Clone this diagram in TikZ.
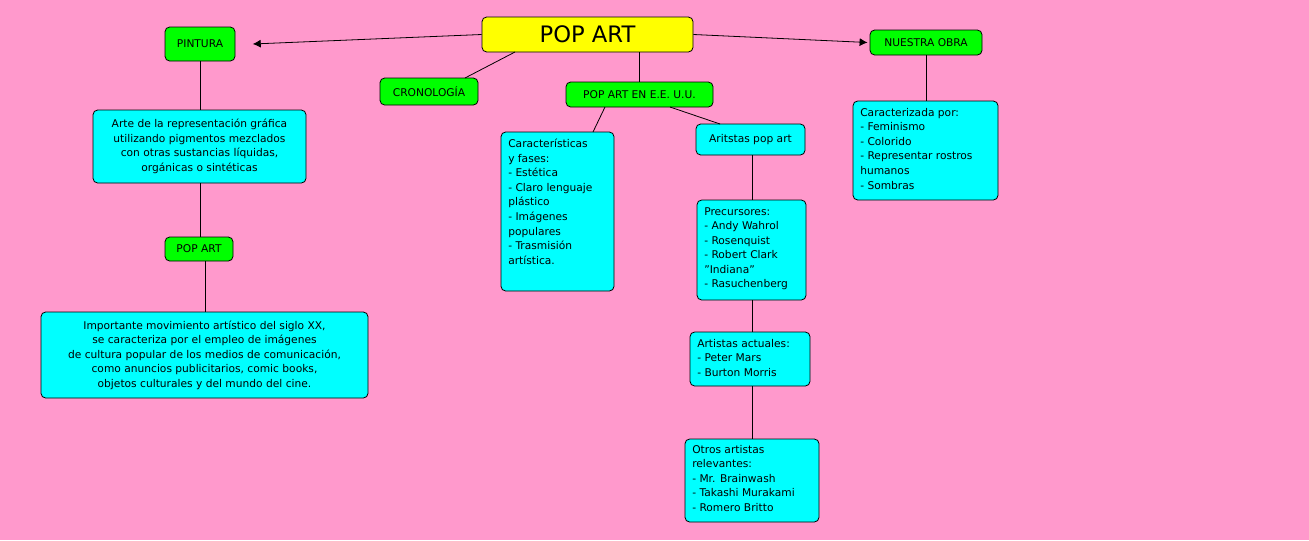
\documentclass[tikz,border=0pt]{standalone}
\usepackage{fontspec}
\setmainfont{DejaVu Sans}
\usetikzlibrary{fit}
\definecolor{bg}{HTML}{FF99CC}
\definecolor{gr}{HTML}{00FF00}
\definecolor{cy}{HTML}{00FFFF}
\definecolor{ye}{HTML}{FFFF00}
\tikzset{
 box/.style={draw=black, rounded corners=3.5pt, inner sep=0pt, line width=0.6pt},
 gbox/.style={box, fill=gr},
 cbox/.style={box, fill=cy},
 lbl/.style={font=\fontsize{8}{10.9}\selectfont, inner sep=0pt},
 con/.style={line width=0.6pt},
 arr/.style={con, -{Latex[length=6pt,width=6pt]}},
}
\usetikzlibrary{arrows.meta}
\begin{document}
\begin{tikzpicture}[x=0.75pt,y=-0.75pt]
\fill[bg] (0,0) rectangle (1309,540);
\useasboundingbox (0,0) rectangle (1309,540);
% boxes
\node[box, fill=ye, fit={(482,17)(693,52)}] (pop) {};
\node[lbl, font=\fontsize{17}{20}\selectfont] (popt) at (pop.center) {POP ART};
\node[gbox, fit={(165,27)(235,61)}] (pin) {};
\node[lbl] (pint) at (pin.center) {PINTURA};
\node[gbox, fit={(870,30)(982,55)}] (nue) {};
\node[lbl] (nuet) at (nue.center) {NUESTRA OBRA};
\node[gbox, fit={(380,78)(478,105)}] (cro) {};
\node[lbl] (crot) at (cro.center) {CRONOLOGÍA};
\node[gbox, fit={(566,82)(713,107)}] (usa) {};
\node[lbl] (usat) at (usa.center) {POP ART EN E.E. U.U.};
\node[cbox, fit={(93,110)(306,183)}] (arte) {};
\node[lbl, align=center] (artet) at (arte.center) {Arte de la representación gráfica\\utilizando pigmentos mezclados\\con otras sustancias líquidas,\\orgánicas o sintéticas};
\node[gbox, fit={(165,237)(233,261)}] (pop2) {};
\node[lbl] (pop2t) at (pop2.center) {POP ART};
\node[cbox, fit={(41,312)(368,398)}] (imp) {};
\node[lbl, align=center] (impt) at (imp.center) {Importante movimiento artístico del siglo XX,\\se caracteriza por el empleo de imágenes\\de cultura popular de los medios de comunicación,\\como anuncios publicitarios, comic books,\\objetos culturales y del mundo del cine.};
\node[cbox, fit={(501,132)(614,291)}] (car) {};
\node[lbl, align=left, anchor=north west] (cart) at (508,139) {Características\\y fases:\\- Estética\\- Claro lenguaje\\plástico\\- Imágenes\\populares\\- Trasmisión\\artística.};
\node[cbox, fit={(696,124)(805,155)}] (art) {};
\node[lbl] (artt) at (art.center) {Aritstas pop art};
\node[cbox, fit={(697,200)(806,300)}] (pre) {};
\node[lbl, align=left, anchor=north west] (pret) at (704,207) {Precursores:\\- Andy Wahrol\\- Rosenquist\\- Robert Clark\\"Indiana"\\- Rasuchenberg};
\node[cbox, fit={(690,332)(810,386)}] (act) {};
\node[lbl, align=left, anchor=north west] (actt) at (697,339) {Artistas actuales:\\- Peter Mars\\- Burton Morris};
\node[cbox, fit={(685,439)(819,522)}] (otr) {};
\node[lbl, align=left, anchor=north west] (otrt) at (692,445) {Otros artistas\\relevantes:\\- Mr. Brainwash\\- Takashi Murakami\\- Romero Britto};
\node[cbox, fit={(853,101)(998,200)}] (cza) {};
\node[lbl, align=left, anchor=north west] (czat) at (860,108) {Caracterizada por:\\- Feminismo\\- Colorido\\- Representar rostros\\humanos\\- Sombras};
% connectors
\draw[arr] (pop.west) -- ([xshift=13pt]pin.east);
\draw[arr] (pop.east) -- ([xshift=-1.5pt]nue.west);
\draw[con] (515,52) -- (465,78);
\draw[con] (pop.south -| usa.north) -- (usa.north);
\draw[con] (pin.south) -- (arte.north -| pin.south);
\draw[con] (200,183) -- (200,237);
\draw[con] (205,261) -- (205,312);
\draw[con] (605,107) -- (593,132);
\draw[con] (670,107) -- (720,124);
\draw[con] (752,155) -- (752,200);
\draw[con] (752,300) -- (752,332);
\draw[con] (752,386) -- (752,439);
\draw[con] (926,55) -- (926,101);
\end{tikzpicture}
\end{document}
